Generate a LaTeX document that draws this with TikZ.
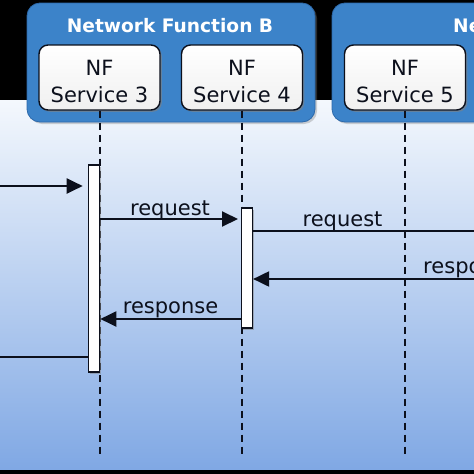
\documentclass[tikz,border=0pt]{standalone}
\usepackage{fontspec}
\setmainfont{DejaVu Sans}
\usetikzlibrary{arrows.meta,shadows}
\definecolor{nfblue}{RGB}{60,131,201}
\definecolor{nfedge}{RGB}{45,105,170}
\definecolor{bgtop}{RGB}{244,248,253}
\definecolor{bgbot}{RGB}{128,168,228}
\definecolor{ink}{RGB}{12,16,28}
\begin{document}
\begin{tikzpicture}[x=1pt,y=-1pt,
  nfbox/.style={draw=nfedge, line width=0.8pt, fill=nfblue, rounded corners=13pt,
    minimum width=288pt, minimum height=119pt, inner sep=0pt,
    drop shadow={shadow xshift=2pt, shadow yshift=-2pt, opacity=0.35}},
  nftitle/.style={text=white, font=\fontsize{18.6}{22}\selectfont\bfseries, inner sep=0pt},
  svcbox/.style={draw=ink, line width=1.4pt, top color=white, bottom color=gray!12,
    rounded corners=9pt, minimum width=121pt, minimum height=65pt, inner sep=0pt,
    drop shadow={shadow xshift=1.8pt, shadow yshift=-1.8pt, opacity=0.6}},
  svctext/.style={align=center, font=\fontsize{21}{26.7}\selectfont, text=ink, inner sep=0pt},
  life/.style={draw=ink, line width=2.2pt, dash pattern=on 7pt off 5pt},
  barbox/.style={draw=ink, line width=1.6pt, fill=white, minimum width=11pt, inner sep=0pt,
    drop shadow={shadow xshift=1.5pt, shadow yshift=-1.5pt, opacity=0.5}},
  msg/.style={draw=ink, line width=2pt, -{Triangle[length=16pt,width=15pt]}},
  plain/.style={draw=ink, line width=2pt},
  lbl/.style={font=\fontsize{21}{25}\selectfont, text=ink, inner sep=0pt, anchor=base}
]
\clip (0,0) rectangle (474,474);
% background
\fill[black] (0,0) rectangle (474,474);
\shade[top color=bgtop, bottom color=bgbot] (0,100) rectangle (474,469);

% network functions
\node[nfbox] (nfB) at (171,62.5) {};
\node[nfbox] (nfC) at (476,62.5) {};
\node[nftitle, anchor=base] (tB) at (170,32) {Network Function B};
\node[nftitle, anchor=base west] (tC) at (453,32) {Network Function C};

% services
\node[svcbox] (s3) at (99.5,77.5) {};
\node[svcbox] (s4) at (242,77.5) {};
\node[svcbox] (s5) at (405,77.5) {};
\node[svctext] (t3) at (99.5,81.7) {NF\\Service 3};
\node[svctext] (t4) at (242,81.7) {NF\\Service 4};
\node[svctext] (t5) at (405,81.7) {NF\\Service 5};

% lifelines
\coordinate (e3) at (100,458);
\coordinate (e4) at (242,458);
\coordinate (e5) at (405,458);
\draw[life] (s3.south -| e3) -- (e3);
\draw[life] (s4.south) -- (e4);
\draw[life] (s5.south) -- (e5);

% activation bars
\node[barbox, minimum height=207pt] (b1) at (94,268.5) {};
\node[barbox, minimum height=120pt] (b2) at (246.8,268) {};

% messages
\coordinate (inL) at (0,186);
\coordinate (outL) at (0,357);
\coordinate (r1) at (0,219);
\coordinate (r2) at (474,231);
\coordinate (p2) at (474,279);
\coordinate (p1) at (0,319);
\draw[msg, shorten >=5pt] (inL) -- (inL -| b1.west);
\draw[msg, shorten >=2.5pt] (r1 -| b1.east) -- (r1 -| b2.west);
\draw[plain] (r2 -| b2.east) -- (r2);
\draw[msg] (p2) -- (p2 -| b2.east);
\draw[msg] (p1 -| b2.west) -- (p1 -| b1.east);
\draw[plain] (outL -| b1.west) -- (outL);

% labels
\node[lbl] (lr1) at (170,215) {request};
\node[lbl] (lr2) at (342.5,226) {request};
\node[lbl] (lp1) at (170.5,313) {response};
\node[lbl, anchor=base west] (lp2) at (423,273) {response};
\end{tikzpicture}
\end{document}
